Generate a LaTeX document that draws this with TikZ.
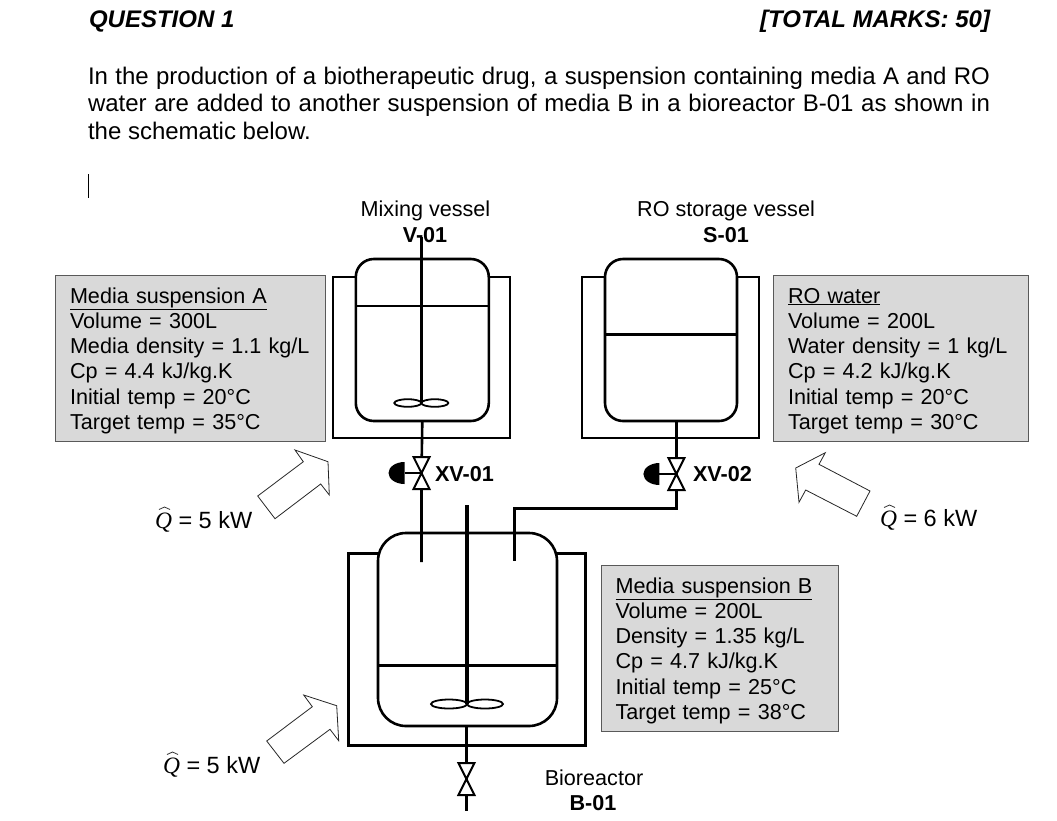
\documentclass[tikz,border=0pt]{standalone}
\usepackage{fontspec}
\setmainfont{Liberation Sans}
\newfontfamily\heatfont{Liberation Serif}
\usetikzlibrary{calc}

\begin{document}
\begin{tikzpicture}[
  x=1pt, y=-1pt,
  every node/.style={
    inner sep=0pt, outer sep=0pt,
    font=\fontsize{21.6}{25.3}\selectfont,
  },
  bigtext/.style={font=\fontsize{24}{27.5}\selectfont},
  jacket/.style={draw, line width=2.6pt},
  vessel/.style={draw, line width=2.6pt, fill=white},
  pipe/.style={line width=2.6pt},
  shaft/.style={line width=3.6pt},
  blade/.style={draw, line width=1.8pt, fill=white},
  infobox/.style={
    draw=black!65, fill=black!15, line width=.7pt, anchor=north west,
    align=left, inner xsep=15pt, text height=28pt, text depth=138.5pt,
  },
  heatarrow/.style={draw=black!85, line width=.8pt, fill=white},
  heatlabel/.style={anchor=base west, font=\fontsize{23.5}{27}\selectfont},
]

  \useasboundingbox (0,0) rectangle (1057,820);

  \def\drawValve{
    \draw [pipe, line width=2pt, fill=white] (\n) +(-8,-16) -- +(8,-16) -- +(-8,16) -- +(8,16) -- cycle;
  }
  \def\drawActuator{
    \draw [pipe] (\n) -- +(-17,0);
    \fill ($(\n)+(-17,-11)$) arc [start angle=90, end angle=270, x radius=16pt, y radius=11pt] -- cycle;
  }
  \def\drawHat{
    \draw [line width=.8pt, black!80] (\n.base west) +(4,-18.5) -- +(9.5,-21) -- +(15,-18.5);
  }

  % header
  \node [bigtext, anchor=west] (question) at (89,21.5) {\bfseries\itshape QUESTION 1};
  \node [bigtext, anchor=east] (marks) at (990,21.5) {\bfseries\itshape [TOTAL MARKS: 50]};
  \node [bigtext, anchor=north west, text width=902pt, align=justify] (intro) at (88,67)
    {In the production of a biotherapeutic drug, a suspension containing media A and RO water are added to another suspension of media B in a bioreactor B-01 as shown in the schematic below.};
  \draw [line width=.8pt] (88.5,174) -- (88.5,198);

  % jackets
  \node [jacket, minimum width=177, minimum height=161] (V01jacket) at (421.5,357.5) {};
  \node [jacket, minimum width=177, minimum height=161] (S01jacket) at (670.5,357.5) {};
  \node [jacket, minimum width=237, minimum height=192] (B01jacket) at (467,649.5) {};

  % vessels
  \node [vessel, minimum width=133, minimum height=162, rounded corners=18pt] (V01) at (422.3,340) {};
  \node [vessel, minimum width=132, minimum height=162, rounded corners=18pt] (S01) at (671,340) {};
  \node [vessel, minimum width=179, minimum height=193, rounded corners=28pt] (B01) at (467.5,629.5) {};

  % liquid levels
  \draw [pipe] (V01.west |- 0,306) -- (V01.east |- 0,306);
  \draw [pipe] (S01.west |- 0,334.4) -- (S01.east |- 0,334.4);
  \draw [pipe] (B01.west |- 0,665.4) -- (B01.east |- 0,665.4);

  % valves and pipe ends
  \coordinate (XV01) at (421.5,473);
  \coordinate (XV02) at (676.4,474);
  \coordinate (XV03) at (466.4,779);
  \coordinate (B01inA) at (421.5,562);
  \coordinate (B01turn) at (514.4,508.4);
  \coordinate (B01inB) at (514.4,561);
  \coordinate (B01out) at (466.4,811);

  \draw [pipe] (V01.south) -- (XV01) -- (B01inA);
  \draw [pipe] (S01.south -| XV02) -- (XV02) |- (B01turn) -- (B01inB);
  \draw [pipe] (B01.south -| XV03) -- (B01out);

  \def\n{XV01}\drawActuator\drawValve
  \def\n{XV02}\drawActuator\drawValve
  \def\n{XV03}\drawValve

  % agitators
  \coordinate (V01top) at (421.3,237);
  \coordinate (V01hub) at (421.3,403);
  \coordinate (B01top) at (467,505);
  \coordinate (B01hub) at (467,704);

  \draw [blade] ($(V01hub)+(-13.5,0)$) ellipse [x radius=13.5pt, y radius=3.8pt];
  \draw [blade] ($(V01hub)+(13.5,0)$) ellipse [x radius=13.5pt, y radius=3.8pt];
  \draw [pipe] (V01top) -- (V01hub);
  \draw [blade] ($(B01hub)+(-18,0)$) ellipse [x radius=18pt, y radius=4.5pt];
  \draw [blade] ($(B01hub)+(18,0)$) ellipse [x radius=18pt, y radius=4.5pt];
  \draw [shaft] (B01top) -- (B01hub);

  % labels
  \node (V01name) at (425.5,211) {Mixing vessel};
  \node (V01tag) at (425,235.5) {\bfseries V-01};
  \node (S01name) at (726,211) {RO storage vessel};
  \node (S01tag) at (726,235.5) {\bfseries S-01};
  \node [anchor=west] (XV01tag) at (435,474.5) {\bfseries XV-01};
  \node [anchor=west] (XV02tag) at (693,474.5) {\bfseries XV-02};
  \node (B01name) at (594,778) {Bioreactor};
  \node (B01tag) at (593,803.5) {\bfseries B-01};

  % property boxes
  \node [infobox, text width=240.3pt] (mediaA) at (55,275) {%
    \underline{Media suspension A}\\ Volume = 300L\\ Media density = 1.1 kg/L\\
    Cp = 4.4 kJ/kg.K\\ Initial temp = 20°C\\ Target temp = 35°C};
  \node [infobox, text width=225.3pt] (water) at (773,275) {%
    \underline{RO water}\\ Volume = 200L\\ Water density = 1 kg/L\\
    Cp = 4.2 kJ/kg.K\\ Initial temp = 20°C\\ Target temp = 30°C};
  \node [infobox, inner xsep=14.5pt, text width=208.3pt] (mediaB) at (601,565) {%
    \underline{Media suspension B}\\ Volume = 200L\\ Density = 1.35 kg/L\\
    Cp = 4.7 kJ/kg.K\\ Initial temp = 25°C\\ Target temp = 38°C};

  % heat input
  \draw [heatarrow] (257.7,496) -- (303.3,461.7) -- (295,450) -- (328,461.7) -- (329.3,495) -- (320.7,484) -- (275,518.7) -- cycle;
  \draw [heatarrow] (266.7,741) -- (312.3,706.7) -- (303.7,695) -- (336.7,705.7) -- (338.7,740.7) -- (330,729.3) -- (284,763.3) -- cycle;
  \draw [heatarrow] (870,491) -- (819,464.3) -- (825.3,452.7) -- (795.7,468) -- (799,502.3) -- (805.7,490) -- (856.7,516.3) -- cycle;

  \node [heatlabel] (heatA) at (155,528) {{\heatfont\itshape Q} = 5 kW};
  \node [heatlabel] (heatB) at (163,773) {{\heatfont\itshape Q} = 5 kW};
  \node [heatlabel] (heatC) at (880,526) {{\heatfont\itshape Q} = 6 kW};

  \def\n{heatA}\drawHat
  \def\n{heatB}\drawHat
  \def\n{heatC}\drawHat

\end{tikzpicture}
\end{document}
